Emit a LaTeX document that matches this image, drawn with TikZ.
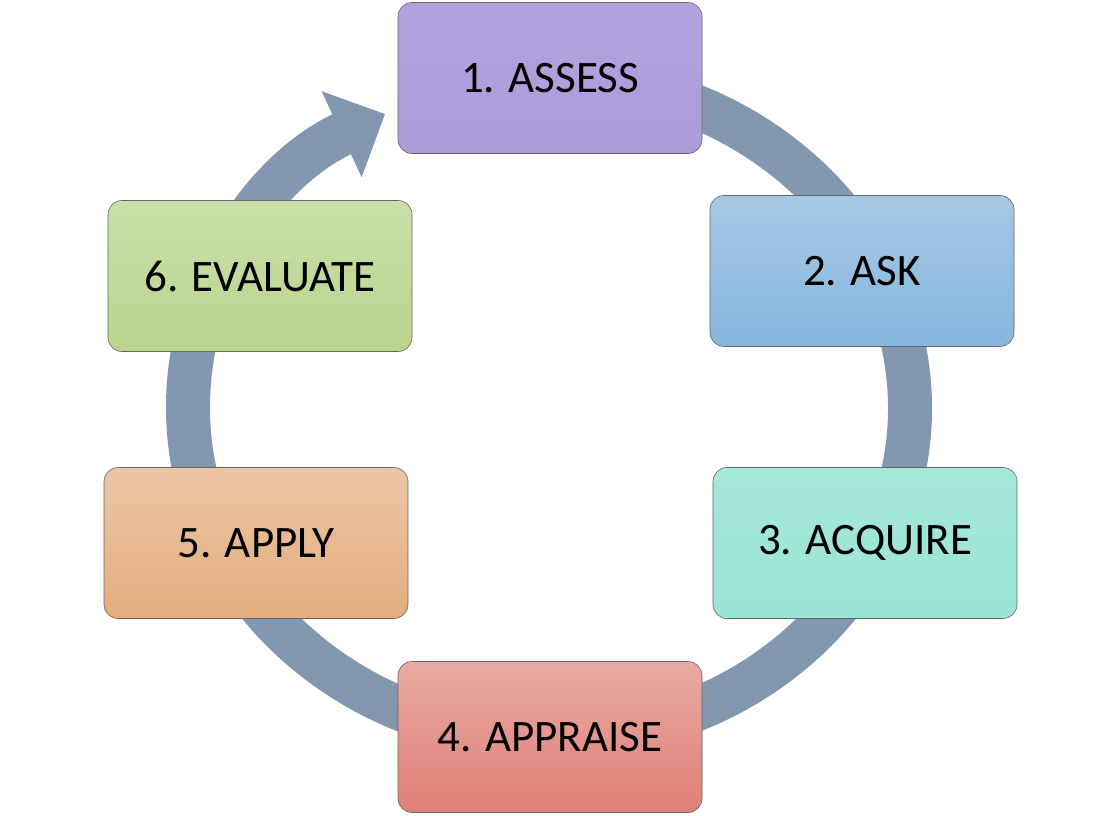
\documentclass[tikz,border=0pt]{standalone}
\usepackage{fontspec}
\setmainfont{Carlito}
\usetikzlibrary{arrows.meta,calc}
\tikzset{
  stepbox/.style={draw=black!60, line width=0.6pt, rounded corners=14pt, minimum width=304pt, minimum height=151pt, font=\fontsize{45}{50}\selectfont, inner sep=0pt},
}
\begin{document}
\begin{tikzpicture}[x=1pt,y=1pt]
\useasboundingbox (0,0) rectangle (1101,-816);
\coordinate (c) at (549,-408);
\draw[line width=44pt, color={rgb,255:red,131;green,152;blue,176}, -{Triangle[width=92pt,length=48pt]}]
  ($(c)+(95:361 and 330)$) arc[start angle=95, end angle=-243, x radius=361, y radius=330];
\node[stepbox, top color={rgb,255:red,178;green,162;blue,222}, bottom color={rgb,255:red,172;green,156;blue,218}] (n1) at (550,-78) {1. ASSESS};
\node[stepbox, top color={rgb,255:red,166;green,200;blue,228}, bottom color={rgb,255:red,134;green,182;blue,222}] (n2) at (862,-271) {2. ASK};
\node[stepbox, top color={rgb,255:red,164;green,232;blue,216}, bottom color={rgb,255:red,156;green,228;blue,212}] (n3) at (865,-543) {3. ACQUIRE};
\node[stepbox, top color={rgb,255:red,232;green,170;blue,162}, bottom color={rgb,255:red,224;green,128;blue,120}] (n4) at (550,-737) {4. APPRAISE};
\node[stepbox, top color={rgb,255:red,234;green,198;blue,166}, bottom color={rgb,255:red,228;green,172;blue,124}] (n5) at (256,-543) {5. APPLY};
\node[stepbox, top color={rgb,255:red,202;green,224;blue,170}, bottom color={rgb,255:red,184;green,212;blue,140}] (n6) at (260,-276) {6. EVALUATE};
\end{tikzpicture}
\end{document}
